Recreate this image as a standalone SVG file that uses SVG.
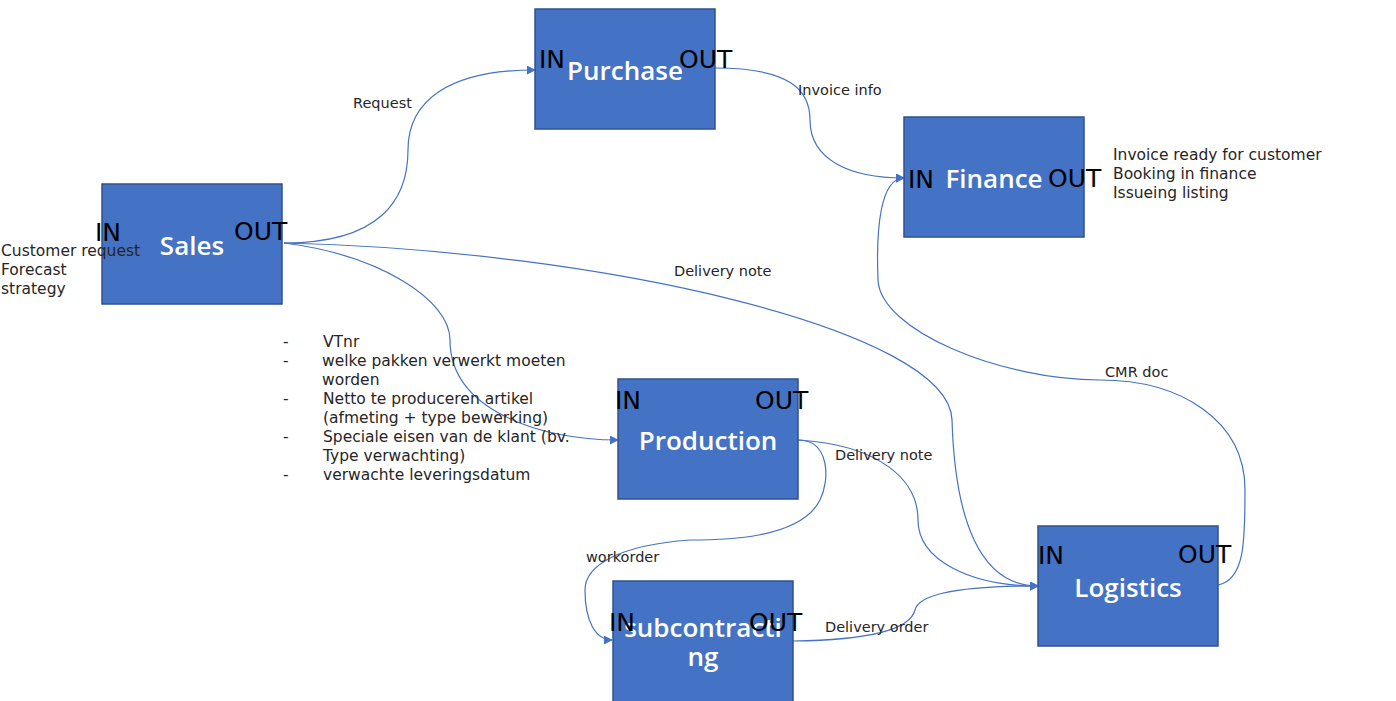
<svg xmlns="http://www.w3.org/2000/svg" width="1396" height="701" viewBox="0 0 1396 701">
<defs>
<style>
.box{fill:#4472c4;stroke:#2f528f;stroke-width:1.5}
.t{font-family:"Open Sans","DejaVu Sans",sans-serif;font-size:26px;font-weight:600;fill:#fff;text-anchor:middle}
.io{font-family:"DejaVu Sans",sans-serif;font-size:25px;fill:#000}
.lb{font-family:"DejaVu Sans",sans-serif;font-size:15.5px;fill:#262626}
.sm{font-size:14.5px}
.c{fill:none;stroke:#4472c4;stroke-width:1.2;marker-end:url(#a)}
</style>
<marker id="a" viewBox="0 0 10 10" refX="9" refY="5" markerWidth="9" markerHeight="9" markerUnits="userSpaceOnUse" orient="auto"><path d="M0,0L10,5L0,10z" fill="#4472c4"/></marker>
</defs>
<rect width="1396" height="701" fill="#fff"/>
<g id="connectors">
<path class="c" d="M284,243 C380,243 408,200 408,150 C408,100 450,70 535,70"/>
<path class="c" d="M715,68 C790,68 810,90 810,120 C810,160 850,178 904,178"/>
<path class="c" d="M284,243 C600,250 950,330 952,420 C955,520 980,586 1038,586"/>
<path class="c" d="M284,243 C380,255 450,300 450,340 C450,410 540,440 618,440"/>
<path class="c" d="M798,440 C880,445 918,480 918,520 C918,560 970,586 1038,586"/>
<path class="c" d="M798,440 C830,440 830,480 820,500 C800,540 720,540 690,540 C620,545 585,565 585,590 C585,620 595,640 612,640"/>
<path class="c" d="M793,641 C870,640 910,630 915,610 C920,590 980,586 1038,586"/>
<path class="c" d="M1218,585 C1245,580 1245,540 1245,490 C1245,420 1180,380 1100,380 C1000,380 880,330 878,280 C876,230 880,178 904,178"/>
<text class="lb sm" x="353" y="108">Request</text>
<text class="lb sm" x="798" y="95">Invoice info</text>
<text class="lb sm" x="674" y="276">Delivery note</text>
<text class="lb sm" x="835" y="460">Delivery note</text>
<text class="lb sm" x="586" y="562">workorder</text>
<text class="lb sm" x="825" y="632">Delivery order</text>
<text class="lb sm" x="1105" y="377">CMR doc</text>
</g>
<g id="purchase"><rect class="box" x="535" y="9" width="180" height="120"/><text class="t" x="625" y="80">Purchase</text><text class="io" x="539" y="68">IN</text><text class="io" x="679" y="68">OUT</text></g>
<g id="finance"><rect class="box" x="904" y="117" width="180" height="120"/><text class="t" x="994" y="188">Finance</text><text class="io" x="908" y="188">IN</text><text class="io" x="1048" y="187">OUT</text>
<text class="lb" x="1113" y="160">Invoice ready for customer</text><text class="lb" x="1113" y="179">Booking in finance</text><text class="lb" x="1113" y="198">Issueing listing</text></g>
<g id="sales"><rect class="box" x="102" y="184" width="180" height="120"/><text class="t" x="192" y="255">Sales</text><text class="io" x="95" y="241">IN</text><text class="io" x="234" y="240">OUT</text>
<text class="lb" x="1" y="256">Customer request</text><text class="lb" x="1" y="275">Forecast</text><text class="lb" x="1" y="294">strategy</text></g>
<g id="production"><rect class="box" x="618" y="379" width="180" height="120"/><text class="t" x="708" y="450">Production</text><text class="io" x="615" y="409">IN</text><text class="io" x="755" y="409">OUT</text></g>
<g id="logistics"><rect class="box" x="1038" y="526" width="180" height="120"/><text class="t" x="1128" y="597">Logistics</text><text class="io" x="1038" y="564">IN</text><text class="io" x="1178" y="563">OUT</text></g>
<g id="subcontracting"><rect class="box" x="613" y="581" width="180" height="125"/><text class="t" x="703" y="637">subcontracti</text><text class="t" x="703" y="666">ng</text><text class="io" x="609" y="631">IN</text><text class="io" x="749" y="631">OUT</text></g>
<g id="notes" class="lb">
<text x="283" y="347">-</text><text x="323" y="347">VTnr</text>
<text x="283" y="366">-</text><text x="322" y="366">welke pakken verwerkt moeten</text>
<text x="322" y="385">worden</text>
<text x="283" y="404">-</text><text x="323" y="404">Netto te produceren artikel</text>
<text x="323" y="423">(afmeting + type bewerking)</text>
<text x="283" y="442">-</text><text x="323" y="442">Speciale eisen van de klant (bv.</text>
<text x="323" y="461">Type verwachting)</text>
<text x="283" y="480">-</text><text x="323" y="480">verwachte leveringsdatum</text>
</g>
</svg>
